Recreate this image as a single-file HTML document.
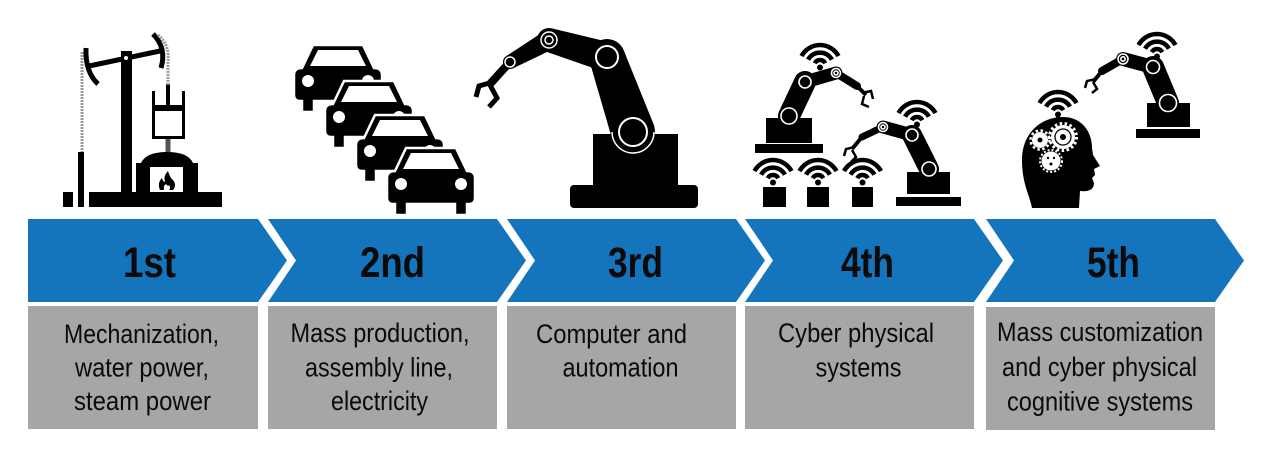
<!DOCTYPE html>
<html><head><meta charset="utf-8">
<style>
html,body{margin:0;padding:0;background:#fff;}
svg{display:block;}
text{font-family:"Liberation Sans",Arial,sans-serif;}
</style></head><body>
<svg width="1261" height="460" viewBox="0 0 1261 460" xmlns="http://www.w3.org/2000/svg">
<rect width="1261" height="460" fill="#fff"/>

<!-- chevrons -->
<g fill="#1474bc">
<path d="M28,219 H258 L287,260.5 L258,302 H28 Z"/>
<path d="M268,219 H497 L526,260.5 L497,302 H268 L296,260.5 Z"/>
<path d="M507,219 H736 L765,260.5 L736,302 H507 L535,260.5 Z"/>
<path d="M745,219 H974 L1003,260.5 L974,302 H745 L773,260.5 Z"/>
<path d="M986,219 H1215 L1244,260.5 L1215,302 H986 L1014,260.5 Z"/>
</g>

<!-- gray boxes -->
<g fill="#a6a6a6">
<rect x="28" y="306" width="230" height="123"/>
<rect x="268" y="306" width="229" height="123"/>
<rect x="507" y="306" width="229" height="123"/>
<rect x="745" y="306" width="229" height="123"/>
<rect x="986" y="307" width="229" height="123"/>
</g>

<!-- numbers -->
<g font-size="43" font-weight="bold" fill="#0a0a0a">
<text x="123" y="277" textLength="53" lengthAdjust="spacingAndGlyphs">1st</text>
<text x="360" y="277" textLength="65" lengthAdjust="spacingAndGlyphs">2nd</text>
<text x="608" y="277" textLength="55" lengthAdjust="spacingAndGlyphs">3rd</text>
<text x="841" y="277" textLength="53" lengthAdjust="spacingAndGlyphs">4th</text>
<text x="1087" y="277" textLength="53" lengthAdjust="spacingAndGlyphs">5th</text>
</g>

<!-- box texts -->
<g font-size="27" fill="#0a0a0a">
<text x="64" y="343" textLength="155" lengthAdjust="spacingAndGlyphs">Mechanization,</text>
<text x="75" y="376.5" textLength="134" lengthAdjust="spacingAndGlyphs">water power,</text>
<text x="74" y="410" textLength="137" lengthAdjust="spacingAndGlyphs">steam power</text>

<text x="290.5" y="342" textLength="179" lengthAdjust="spacingAndGlyphs">Mass production,</text>
<text x="305" y="376.5" textLength="148" lengthAdjust="spacingAndGlyphs">assembly line,</text>
<text x="331" y="410" textLength="97" lengthAdjust="spacingAndGlyphs">electricity</text>

<text x="536" y="343" textLength="151" lengthAdjust="spacingAndGlyphs">Computer and</text>
<text x="562.5" y="376.5" textLength="116" lengthAdjust="spacingAndGlyphs">automation</text>

<text x="778" y="342" textLength="156" lengthAdjust="spacingAndGlyphs">Cyber physical</text>
<text x="815.5" y="376.5" textLength="86" lengthAdjust="spacingAndGlyphs">systems</text>

<text x="997" y="341" textLength="206" lengthAdjust="spacingAndGlyphs">Mass customization</text>
<text x="1002" y="376" textLength="195" lengthAdjust="spacingAndGlyphs">and cyber physical</text>
<text x="1007" y="410.5" textLength="186" lengthAdjust="spacingAndGlyphs">cognitive systems</text>
</g>

<!-- ICON 1: steam engine -->
<g fill="#000">
<rect x="63" y="192" width="10" height="15"/>
<rect x="78" y="152" width="6" height="55"/>
<rect x="89" y="192" width="133" height="15"/>
<rect x="121" y="51" width="11" height="141"/>
<path d="M136,192 V163 H141 Q146,152 167,152 Q188,152 193,163 H198 V192 Z"/>
<rect x="150" y="167" width="33" height="25" fill="#fff"/>
<path d="M160,190 Q157,183 162,178 Q163,182 165,182 Q163,176 168,171 Q170,178 173,180 Q177,185 173,190 Z"/>
<path d="M164,190 Q163,186 166,184 Q168,187 169,185 Q171,188 169,190 Z" fill="#fff"/>
<rect x="166" y="84" width="4" height="23"/>
<rect x="154" y="105" width="29" height="6"/>
<rect x="165.5" y="138" width="5" height="14" fill="#555"/>
</g>
<line x1="89" y1="66" x2="160" y2="51" stroke="#000" stroke-width="5"/>
<path d="M86,48 Q85,72 98,84" fill="none" stroke="#000" stroke-width="5"/>
<path d="M153,34 Q167,48 161,68" fill="none" stroke="#000" stroke-width="5"/>
<circle cx="126" cy="58" r="2" fill="#fff"/>
<path d="M82,52 V152" stroke="#999" stroke-width="3" stroke-dasharray="2 1" fill="none"/>
<path d="M158,35 Q170,45 168,62 V85" stroke="#999" stroke-width="3" stroke-dasharray="2 1" fill="none"/>
<path d="M153.5,91 V137.5 H183.5 V91" fill="none" stroke="#000" stroke-width="3"/>

<!-- ICON 2: cars -->
<g id="car1" transform="translate(294,45)">
<path d="M19,0 H69 L80,23 Q88,23 88,30 V50 Q88,56 82,56 H80 V67 H68 V56 H20 V67 H8 V56 H6 Q0,56 0,50 V30 Q0,23 8,23 Z" fill="#000" stroke="#fff" stroke-width="2.5"/>
<path d="M24,5 H64 L72,21 H16 Z" fill="#fff"/>
<circle cx="14" cy="36" r="6" fill="#fff"/>
<circle cx="74" cy="36" r="6" fill="#fff"/>
</g>
<g transform="translate(325,81)">
<path d="M19,0 H69 L80,23 Q88,23 88,30 V50 Q88,56 82,56 H80 V67 H68 V56 H20 V67 H8 V56 H6 Q0,56 0,50 V30 Q0,23 8,23 Z" fill="#000" stroke="#fff" stroke-width="2.5"/>
<path d="M24,5 H64 L72,21 H16 Z" fill="#fff"/>
<circle cx="14" cy="36" r="6" fill="#fff"/>
<circle cx="74" cy="36" r="6" fill="#fff"/>
</g>
<g transform="translate(356,115)">
<path d="M19,0 H69 L80,23 Q88,23 88,30 V50 Q88,56 82,56 H80 V67 H68 V56 H20 V67 H8 V56 H6 Q0,56 0,50 V30 Q0,23 8,23 Z" fill="#000" stroke="#fff" stroke-width="2.5"/>
<path d="M24,5 H64 L72,21 H16 Z" fill="#fff"/>
<circle cx="14" cy="36" r="6" fill="#fff"/>
<circle cx="74" cy="36" r="6" fill="#fff"/>
</g>
<g transform="translate(387,148)">
<path d="M19,0 H69 L80,23 Q88,23 88,30 V50 Q88,56 82,56 H80 V67 H68 V56 H20 V67 H8 V56 H6 Q0,56 0,50 V30 Q0,23 8,23 Z" fill="#000" stroke="#fff" stroke-width="2.5"/>
<path d="M24,5 H64 L72,21 H16 Z" fill="#fff"/>
<circle cx="14" cy="36" r="6" fill="#fff"/>
<circle cx="74" cy="36" r="6" fill="#fff"/>
</g>

<!-- ICON 3: big robot arm -->
<g fill="#000">
<rect x="570" y="185" width="128" height="23" rx="4"/>
<rect x="593" y="134" width="85" height="51"/>
<circle cx="633" cy="132" r="22"/>
<circle cx="607" cy="57" r="18"/>
<polygon points="624,51 653.8,124.8 612.2,139.2 590,62.9"/>
<polygon points="611.2,42.6 552.4,28.5 545.6,51.5 602.8,71.4"/>
<circle cx="549" cy="40" r="12"/>
<polygon points="544.1,31.3 506.6,55.9 513.4,68.1 553.9,48.7"/>
<circle cx="510" cy="62" r="7"/>
</g>
<line x1="510" y1="62" x2="490" y2="84" stroke="#000" stroke-width="8"/>
<path d="M493,82 L479,86 L476,97 M490,85 L497,98 L489,107" fill="none" stroke="#000" stroke-width="5"/>
<g fill="none" stroke="#fff">
<circle cx="633" cy="132" r="14" stroke-width="2"/>
<path d="M612,132 A21,21 0 0 0 654,132" stroke-width="1.5"/>
<circle cx="607" cy="57" r="11" stroke-width="2"/>
<circle cx="549" cy="40" r="8" stroke-width="1.5"/>
<circle cx="549" cy="40" r="4" stroke-width="1.5"/>
<circle cx="510" cy="62" r="5" stroke-width="1.5"/>
</g>

<!-- ICON 4 -->
<!-- robot A -->
<g fill="#000">
<rect x="755" y="144" width="68" height="9"/>
<rect x="766" y="118" width="46" height="25"/>
</g>
<g stroke="#000" stroke-linecap="round" fill="none">
<line x1="789" y1="116" x2="805" y2="82" stroke-width="22"/>
<line x1="805" y1="82" x2="836" y2="73" stroke-width="13"/>
<line x1="836" y1="73" x2="857" y2="86" stroke-width="8"/>
<line x1="857" y1="86" x2="866" y2="95" stroke-width="4" stroke-linecap="butt"/>
<path d="M862,93 L871,91 L873,99 M864,96 L862,104 L869,107" stroke-width="2.5" stroke-linecap="butt"/>
</g>
<g fill="none" stroke="#fff" stroke-width="1.6">
<circle cx="789" cy="116" r="8"/>
<circle cx="805" cy="82" r="6"/>
<circle cx="836" cy="73" r="4.5"/>
<circle cx="836" cy="73" r="2"/>
</g>
<!-- robot B -->
<g fill="#000">
<rect x="896" y="197" width="65" height="9"/>
<rect x="907" y="172" width="43" height="22"/>
</g>
<g stroke="#000" stroke-linecap="round" fill="none">
<line x1="929" y1="169" x2="912" y2="135" stroke-width="20"/>
<line x1="912" y1="135" x2="883" y2="127" stroke-width="13"/>
<line x1="883" y1="127" x2="862" y2="137" stroke-width="7"/>
<line x1="862" y1="137" x2="852" y2="149" stroke-width="4" stroke-linecap="butt"/>
<path d="M855,147 L846,149 L844,156 M852,150 L856,157 L851,162" stroke-width="2.5" stroke-linecap="butt"/>
</g>
<g fill="none" stroke="#fff" stroke-width="1.6">
<circle cx="929" cy="169" r="7"/>
<circle cx="912" cy="135" r="6"/>
<circle cx="883" cy="127" r="4.5"/>
<circle cx="883" cy="127" r="2"/>
</g>
<!-- boxes -->
<g fill="#000">
<rect x="763" y="187" width="23" height="20"/>
<rect x="807" y="187" width="22" height="20"/>
<rect x="852" y="187" width="21" height="20"/>
</g>
<!-- wifis -->
<g fill="none" stroke="#000" stroke-width="4.5">
<path id="wf" d="M-18.5,-9.9 A21,21 0 0 1 18.5,-9.9 M-11.9,-6.3 A13.5,13.5 0 0 1 11.9,-6.3 M-5.3,-2.8 A6,6 0 0 1 5.3,-2.8" transform="translate(820,66)"/>
<path d="M-18.5,-9.9 A21,21 0 0 1 18.5,-9.9 M-11.9,-6.3 A13.5,13.5 0 0 1 11.9,-6.3 M-5.3,-2.8 A6,6 0 0 1 5.3,-2.8" transform="translate(917,123)"/>
<path d="M-18.5,-9.9 A21,21 0 0 1 18.5,-9.9 M-11.9,-6.3 A13.5,13.5 0 0 1 11.9,-6.3 M-5.3,-2.8 A6,6 0 0 1 5.3,-2.8" transform="translate(773,181)"/>
<path d="M-18.5,-9.9 A21,21 0 0 1 18.5,-9.9 M-11.9,-6.3 A13.5,13.5 0 0 1 11.9,-6.3 M-5.3,-2.8 A6,6 0 0 1 5.3,-2.8" transform="translate(818,181)"/>
<path d="M-18.5,-9.9 A21,21 0 0 1 18.5,-9.9 M-11.9,-6.3 A13.5,13.5 0 0 1 11.9,-6.3 M-5.3,-2.8 A6,6 0 0 1 5.3,-2.8" transform="translate(862.5,181)"/>
<path d="M-18.5,-9.9 A21,21 0 0 1 18.5,-9.9 M-11.9,-6.3 A13.5,13.5 0 0 1 11.9,-6.3 M-5.3,-2.8 A6,6 0 0 1 5.3,-2.8" transform="translate(1157,55)"/>
<path d="M-18.5,-9.9 A21,21 0 0 1 18.5,-9.9 M-11.9,-6.3 A13.5,13.5 0 0 1 11.9,-6.3 M-5.3,-2.8 A6,6 0 0 1 5.3,-2.8" transform="translate(1058,113)"/>
</g>
<g fill="#000">
<circle cx="820" cy="67.5" r="3"/>
<circle cx="917" cy="124.5" r="3"/>
<circle cx="773" cy="182.5" r="3"/>
<circle cx="818" cy="182.5" r="3"/>
<circle cx="862.5" cy="182.5" r="3"/>
<circle cx="1157" cy="56.5" r="3"/>
<circle cx="1058" cy="114.5" r="3"/>
<rect x="1056" y="114" width="4" height="5"/>
</g>

<!-- ICON 5 -->
<g fill="#000">
<rect x="1136" y="129" width="64" height="9"/>
<rect x="1147" y="103" width="43" height="24"/>
</g>
<g stroke="#000" stroke-linecap="round" fill="none">
<line x1="1168" y1="103" x2="1153" y2="67" stroke-width="22"/>
<line x1="1153" y1="67" x2="1123" y2="59" stroke-width="14"/>
<line x1="1123" y1="59" x2="1102" y2="71" stroke-width="8"/>
<line x1="1102" y1="71" x2="1093" y2="82" stroke-width="4" stroke-linecap="butt"/>
<path d="M1096,79 L1087,81 L1085,88 M1093,82 L1097,89 L1092,93" stroke-width="2.5" stroke-linecap="butt"/>
</g>
<g fill="none" stroke="#fff" stroke-width="1.6">
<circle cx="1168" cy="103" r="8.5"/>
<circle cx="1153" cy="67" r="6.5"/>
<circle cx="1123" cy="59" r="5"/>
<circle cx="1123" cy="59" r="2.2"/>
</g>
<!-- head -->
<path d="M1032,208 C1030,196 1022,184 1022,160 C1022,134 1040,117 1063,117 C1082,117 1092,132 1092,148 L1093,155 L1100,166 L1094,169 L1095,175 L1092,178 L1094,183 C1094,190 1088,192 1080,191 L1079,208 Z" fill="#000"/>
<!-- gears -->
<circle cx="1063" cy="137" r="12" fill="#fff"/>
<circle cx="1063" cy="137" r="13.5" fill="none" stroke="#fff" stroke-width="3" stroke-dasharray="2.5 2.5"/>
<circle cx="1063" cy="137" r="8" fill="none" stroke="#000" stroke-width="1.3"/>
<circle cx="1063" cy="137" r="3" fill="#000"/>
<circle cx="1040" cy="140" r="8" fill="#fff"/>
<circle cx="1040" cy="140" r="9.5" fill="none" stroke="#fff" stroke-width="2.5" stroke-dasharray="2.5 2.5"/>
<circle cx="1040" cy="140" r="2.5" fill="#000"/>
<circle cx="1051" cy="161" r="9.5" fill="#fff"/>
<circle cx="1051" cy="161" r="11" fill="none" stroke="#fff" stroke-width="2" stroke-dasharray="2 2"/>
<circle cx="1048" cy="158" r="1.2" fill="#000"/>
<circle cx="1054" cy="158" r="1.2" fill="#000"/>
<circle cx="1051" cy="164" r="1.5" fill="#000"/>
</svg>
</body></html>
